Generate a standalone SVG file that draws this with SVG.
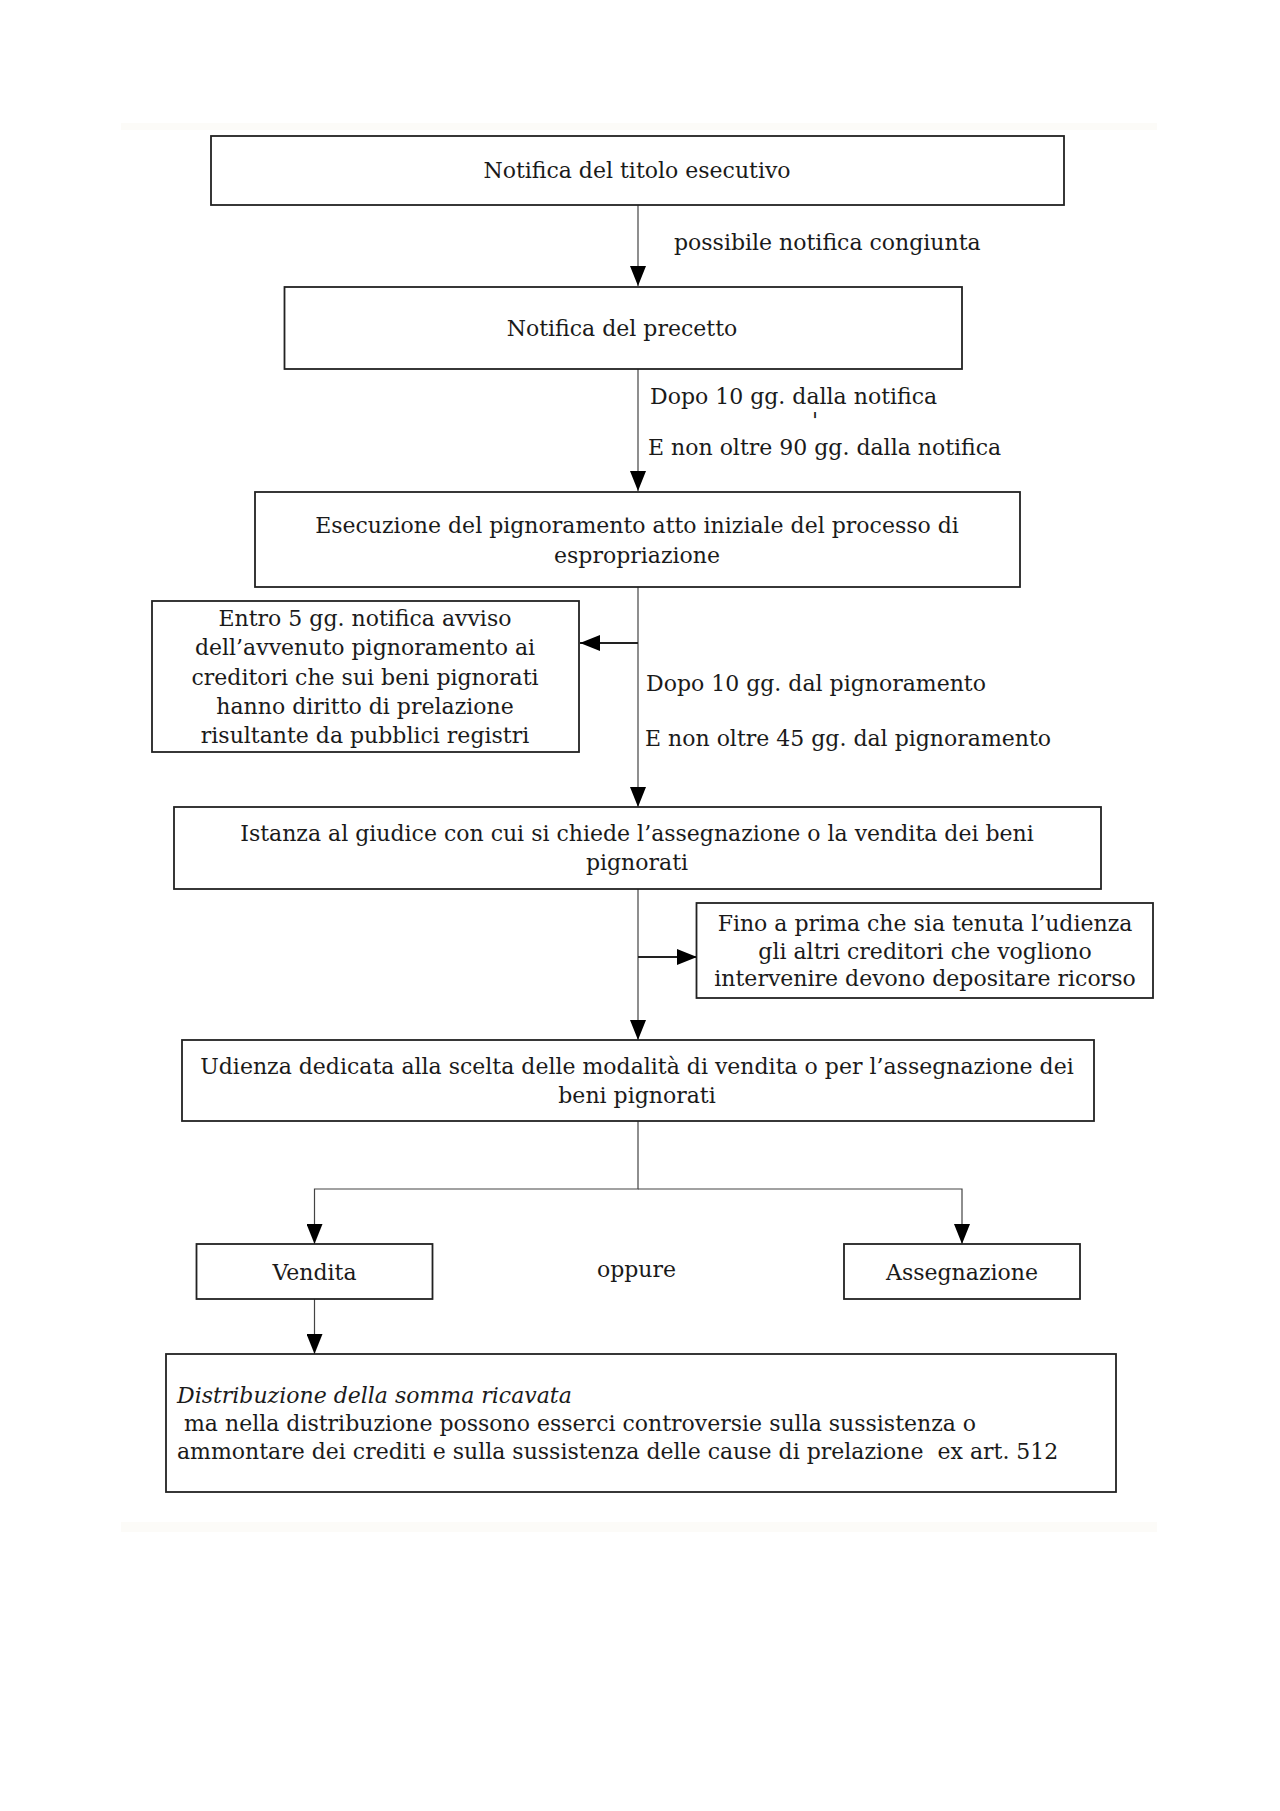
<svg xmlns="http://www.w3.org/2000/svg" width="1280" height="1811" viewBox="0 0 1280 1811">
<style>
.box{fill:#fff;stroke:#222;stroke-width:1.8}
.t{font-family:"DejaVu Serif","Liberation Serif",serif;font-size:22px;fill:#1a1a1a}
.m{text-anchor:middle}
.ln{fill:none;stroke:#444;stroke-width:1.2}
.lnb{fill:none;stroke:#222;stroke-width:2}
</style>
<defs>
<marker id="ah" markerUnits="userSpaceOnUse" markerWidth="20" markerHeight="16" refX="20" refY="8" orient="auto">
<path d="M0,0 L20,8 L0,16 Z" fill="#000"/>
</marker>
</defs>
<rect x="0" y="0" width="1280" height="1811" fill="#fff"/>
<rect x="121" y="123" width="1036" height="7" fill="#fcfbf8"/>
<rect x="121" y="1522" width="1036" height="10" fill="#fcfbf8"/>

<g id="connectors">
<line class="ln" x1="638" y1="205" x2="638" y2="286" marker-end="url(#ah)"/>
<line class="ln" x1="638" y1="369" x2="638" y2="491" marker-end="url(#ah)"/>
<line class="ln" x1="638" y1="587" x2="638" y2="807" marker-end="url(#ah)"/>
<line class="lnb" x1="638" y1="643" x2="580" y2="643" marker-end="url(#ah)"/>
<line class="ln" x1="638" y1="889" x2="638" y2="1040" marker-end="url(#ah)"/>
<line class="lnb" x1="638" y1="957" x2="697" y2="957" marker-end="url(#ah)"/>
<polyline class="ln" points="638,1121 638,1189 314.5,1189 314.5,1244" marker-end="url(#ah)"/>
<polyline class="ln" points="638,1189 962,1189 962,1244" marker-end="url(#ah)"/>
<line class="ln" x1="314.5" y1="1299" x2="314.5" y2="1354" marker-end="url(#ah)"/>
</g>
<g id="labels">
<text class="t" x="674" y="250">possibile notifica congiunta</text>
<text class="t" x="650" y="404">Dopo 10 gg. dalla notifica</text>
<text class="t" x="812" y="428" font-size="10">'</text>
<text class="t" x="648" y="455">E non oltre 90 gg. dalla notifica</text>
<text class="t" x="646" y="691">Dopo 10 gg. dal pignoramento</text>
<text class="t" x="645" y="746">E non oltre 45 gg. dal pignoramento</text>
<text class="t m" x="636.5" y="1277">oppure</text>
</g>

<g id="n1">
<rect class="box" x="211" y="136" width="853" height="69"/>
<text class="t m" x="637" y="178">Notifica del titolo esecutivo</text>
</g>
<g id="n2">
<rect class="box" x="284.5" y="287" width="677.5" height="82"/>
<text class="t m" x="622" y="336">Notifica del precetto</text>
</g>
<g id="n3">
<rect class="box" x="255" y="492" width="765" height="95"/>
<text class="t m" x="637" y="533">Esecuzione del pignoramento atto iniziale del processo di</text>
<text class="t m" x="637" y="563">espropriazione</text>
</g>
<g id="n4">
<rect class="box" x="152" y="601" width="427" height="151"/>
<text class="t m" x="365" y="626">Entro 5 gg. notifica avviso</text>
<text class="t m" x="365" y="655">dell’avvenuto pignoramento ai</text>
<text class="t m" x="365" y="685">creditori che sui beni pignorati</text>
<text class="t m" x="365" y="714">hanno diritto di prelazione</text>
<text class="t m" x="365" y="743">risultante da pubblici registri</text>
</g>
<g id="n5">
<rect class="box" x="174" y="807" width="927" height="82"/>
<text class="t m" x="637" y="841">Istanza al giudice con cui si chiede l’assegnazione o la vendita dei beni</text>
<text class="t m" x="637" y="870">pignorati</text>
</g>
<g id="n6">
<rect class="box" x="696.5" y="903" width="456.5" height="95"/>
<text class="t m" x="925" y="931">Fino a prima che sia tenuta l’udienza</text>
<text class="t m" x="925" y="959">gli altri creditori che vogliono</text>
<text class="t m" x="925" y="986">intervenire devono depositare ricorso</text>
</g>
<g id="n7">
<rect class="box" x="182" y="1040" width="912" height="81"/>
<text class="t m" x="637" y="1074">Udienza dedicata alla scelta delle modalità di vendita o per l’assegnazione dei</text>
<text class="t m" x="637" y="1103">beni pignorati</text>
</g>
<g id="n8">
<rect class="box" x="196.5" y="1244" width="236" height="55"/>
<text class="t m" x="314.5" y="1280">Vendita</text>
</g>
<g id="n9">
<rect class="box" x="844" y="1244" width="236" height="55"/>
<text class="t m" x="962" y="1280">Assegnazione</text>
</g>
<g id="n10">
<rect class="box" x="166" y="1354" width="950" height="138"/>
<text class="t" x="177" y="1403" font-style="italic">Distribuzione della somma ricavata</text>
<text class="t" x="177" y="1431" xml:space="preserve"> ma nella distribuzione possono esserci controversie sulla sussistenza o</text>
<text class="t" x="177" y="1459" xml:space="preserve">ammontare dei crediti e sulla sussistenza delle cause di prelazione  ex art. 512</text>
</g>
</svg>
